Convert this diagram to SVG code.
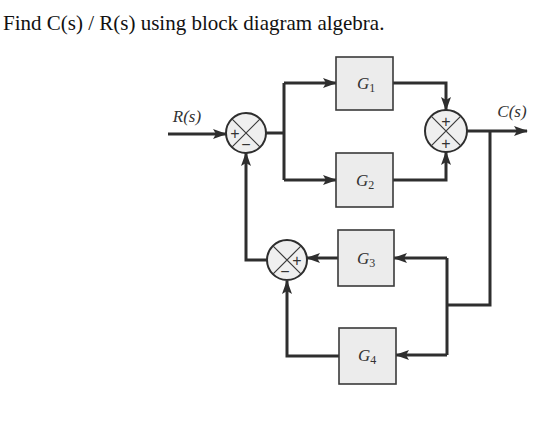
<svg xmlns="http://www.w3.org/2000/svg" width="551" height="425" viewBox="0 0 551 425">
<defs>
<style>
.w{fill:none;stroke:#2e2e2e;stroke-width:3;stroke-linejoin:miter}
.a{marker-end:url(#ah)}
.box{fill:#ececec;stroke:#3a3a3a;stroke-width:1.6}
.sum{fill:#efefef;stroke:#2e2e2e;stroke-width:2}
.x{stroke:#3a3a3a;stroke-width:1.2}
.lbl{font-family:"Liberation Serif",serif;font-style:italic;font-size:17px;fill:#333}
.sub{font-size:12px;font-style:normal}
.sg{font-family:"Liberation Sans",sans-serif;font-size:16px;fill:#333}
</style>
<marker id="ah" viewBox="0 0 14 10" refX="13" refY="5" markerWidth="14" markerHeight="10" markerUnits="userSpaceOnUse" orient="auto">
<path d="M0,0 L14,5 L0,10 L3,5 Z" fill="#2e2e2e"/>
</marker>
</defs>
<rect width="551" height="425" fill="#fff"/>
<text x="3" y="30" font-family="Liberation Serif,serif" font-size="21" fill="#111">Find C(s) / R(s) using block diagram algebra.</text>

<g id="connectors">
<path class="w a" d="M168,134 H226"/>
<path class="w" d="M266,133 H284 M284,83 V180"/>
<path class="w a" d="M284,83 H336"/>
<path class="w a" d="M284,180 H336"/>
<path class="w a" d="M393,83 H446 V110"/>
<path class="w a" d="M393,180 H446 V152"/>
<path class="w a" d="M467,131 H527"/>
<path class="w" d="M490,131 V305 H447 M447,258 V355"/>
<path class="w a" d="M447,258 H394"/>
<path class="w a" d="M447,355 H396"/>
<path class="w a" d="M338,258 H307"/>
<path class="w a" d="M267,260 H246 V153"/>
<path class="w a" d="M339,356 H287 V281"/>
</g>

<g id="Rs"><text class="lbl" x="187" y="122" text-anchor="middle">R(s)</text></g>
<g id="Cs"><text class="lbl" x="512" y="117" text-anchor="middle">C(s)</text></g>

<g id="sum1">
<circle class="sum" cx="246" cy="133" r="20"/>
<path class="x" d="M231.9,118.9 L260.1,147.1 M260.1,118.9 L231.9,147.1"/>
<text class="sg" x="235" y="139" text-anchor="middle">+</text>
<text class="sg" x="246" y="150" text-anchor="middle">−</text>
</g>
<g id="sum2">
<circle class="sum" cx="446" cy="131" r="21"/>
<path class="x" d="M431.2,116.2 L460.8,145.8 M460.8,116.2 L431.2,145.8"/>
<text class="sg" x="446" y="127" text-anchor="middle">+</text>
<text class="sg" x="446" y="149" text-anchor="middle">+</text>
</g>
<g id="sum3">
<circle class="sum" cx="287" cy="260" r="20"/>
<path class="x" d="M272.9,245.9 L301.1,274.1 M301.1,245.9 L272.9,274.1"/>
<text class="sg" x="297" y="266" text-anchor="middle">+</text>
<text class="sg" x="285" y="277" text-anchor="middle">−</text>
</g>

<g id="G1"><rect class="box" x="336" y="57" width="57" height="53"/><text class="lbl" x="357" y="89">G<tspan class="sub" dy="3">1</tspan></text></g>
<g id="G2"><rect class="box" x="336" y="153" width="57" height="54"/><text class="lbl" x="356" y="186">G<tspan class="sub" dy="3">2</tspan></text></g>
<g id="G3"><rect class="box" x="338" y="230" width="56" height="56"/><text class="lbl" x="357" y="264">G<tspan class="sub" dy="3">3</tspan></text></g>
<g id="G4"><rect class="box" x="339" y="328" width="57" height="56"/><text class="lbl" x="358" y="361">G<tspan class="sub" dy="3">4</tspan></text></g>
</svg>
